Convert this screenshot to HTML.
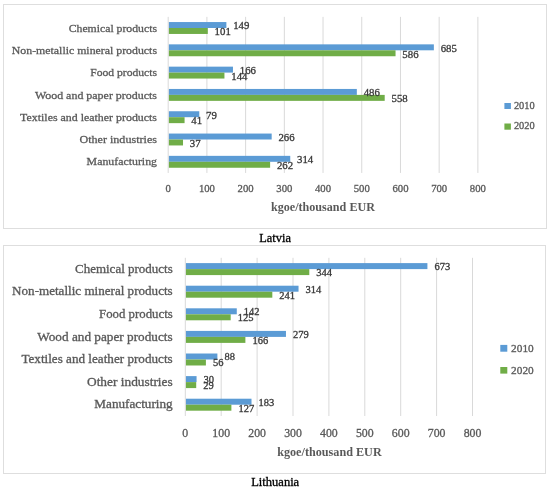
<!DOCTYPE html>
<html><head><meta charset="utf-8"><style>
html,body{margin:0;padding:0;background:#fff;}
svg{display:block;font-family:"Liberation Serif", serif;will-change:transform;}
text{stroke-width:0.3px;}
</style></head><body>
<svg width="550" height="491" viewBox="0 0 550 491">
<rect x="3.5" y="4.5" width="543" height="224" fill="#fff" stroke="#DEDEDE" stroke-width="1"/>
<line x1="206.91" y1="16.85" x2="206.91" y2="172.95" stroke="#D9D9D9" stroke-width="1"/>
<line x1="245.62" y1="16.85" x2="245.62" y2="172.95" stroke="#D9D9D9" stroke-width="1"/>
<line x1="284.33" y1="16.85" x2="284.33" y2="172.95" stroke="#D9D9D9" stroke-width="1"/>
<line x1="323.04" y1="16.85" x2="323.04" y2="172.95" stroke="#D9D9D9" stroke-width="1"/>
<line x1="361.75" y1="16.85" x2="361.75" y2="172.95" stroke="#D9D9D9" stroke-width="1"/>
<line x1="400.46" y1="16.85" x2="400.46" y2="172.95" stroke="#D9D9D9" stroke-width="1"/>
<line x1="439.17" y1="16.85" x2="439.17" y2="172.95" stroke="#D9D9D9" stroke-width="1"/>
<line x1="477.88" y1="16.85" x2="477.88" y2="172.95" stroke="#D9D9D9" stroke-width="1"/>
<rect x="168.7" y="22.05" width="57.68" height="5.95" fill="#5B9BD5"/>
<rect x="168.7" y="28" width="39.1" height="5.95" fill="#70AD47"/>
<rect x="168.7" y="44.35" width="265.16" height="5.95" fill="#5B9BD5"/>
<rect x="168.7" y="50.3" width="226.84" height="5.95" fill="#70AD47"/>
<rect x="168.7" y="66.65" width="64.26" height="5.95" fill="#5B9BD5"/>
<rect x="168.7" y="72.6" width="55.74" height="5.95" fill="#70AD47"/>
<rect x="168.7" y="88.95" width="188.13" height="5.95" fill="#5B9BD5"/>
<rect x="168.7" y="94.9" width="216" height="5.95" fill="#70AD47"/>
<rect x="168.7" y="111.25" width="30.58" height="5.95" fill="#5B9BD5"/>
<rect x="168.7" y="117.2" width="15.87" height="5.95" fill="#70AD47"/>
<rect x="168.7" y="133.55" width="102.97" height="5.95" fill="#5B9BD5"/>
<rect x="168.7" y="139.5" width="14.32" height="5.95" fill="#70AD47"/>
<rect x="168.7" y="155.85" width="121.55" height="5.95" fill="#5B9BD5"/>
<rect x="168.7" y="161.8" width="101.42" height="5.95" fill="#70AD47"/>
<line x1="168.2" y1="16.85" x2="168.2" y2="172.95" stroke="#D9D9D9" stroke-width="1"/>
<text x="68.7" y="31.6" font-size="11.4" fill="#595959" stroke="#595959" textLength="88.3" lengthAdjust="spacingAndGlyphs">Chemical products</text>
<text x="11.8" y="53.9" font-size="11.4" fill="#595959" stroke="#595959" textLength="145.2" lengthAdjust="spacingAndGlyphs">Non-metallic mineral products</text>
<text x="90.3" y="76.2" font-size="11.4" fill="#595959" stroke="#595959" textLength="66.7" lengthAdjust="spacingAndGlyphs">Food products</text>
<text x="34.9" y="98.5" font-size="11.4" fill="#595959" stroke="#595959" textLength="122.1" lengthAdjust="spacingAndGlyphs">Wood and paper products</text>
<text x="20.1" y="120.8" font-size="11.4" fill="#595959" stroke="#595959" textLength="136.9" lengthAdjust="spacingAndGlyphs">Textiles and leather products</text>
<text x="79.4" y="143.1" font-size="11.4" fill="#595959" stroke="#595959" textLength="77.6" lengthAdjust="spacingAndGlyphs">Other industries</text>
<text x="86.6" y="165.4" font-size="11.4" fill="#595959" stroke="#595959" textLength="70.4" lengthAdjust="spacingAndGlyphs">Manufacturing</text>
<text x="168.2" y="191.7" font-size="10.7" fill="#595959" stroke="#595959" text-anchor="middle">0</text>
<text x="206.91" y="191.7" font-size="10.7" fill="#595959" stroke="#595959" text-anchor="middle">100</text>
<text x="245.62" y="191.7" font-size="10.7" fill="#595959" stroke="#595959" text-anchor="middle">200</text>
<text x="284.33" y="191.7" font-size="10.7" fill="#595959" stroke="#595959" text-anchor="middle">300</text>
<text x="323.04" y="191.7" font-size="10.7" fill="#595959" stroke="#595959" text-anchor="middle">400</text>
<text x="361.75" y="191.7" font-size="10.7" fill="#595959" stroke="#595959" text-anchor="middle">500</text>
<text x="400.46" y="191.7" font-size="10.7" fill="#595959" stroke="#595959" text-anchor="middle">600</text>
<text x="439.17" y="191.7" font-size="10.7" fill="#595959" stroke="#595959" text-anchor="middle">700</text>
<text x="477.88" y="191.7" font-size="10.7" fill="#595959" stroke="#595959" text-anchor="middle">800</text>
<text x="270.9" y="210.7" font-size="11.5" fill="#595959" font-weight="bold" stroke="none" textLength="104.1" lengthAdjust="spacingAndGlyphs">kgoe/thousand EUR</text>
<rect x="504.4" y="103" width="6.5" height="6" fill="#5B9BD5"/>
<rect x="504.4" y="123.5" width="6.5" height="6.2" fill="#70AD47"/>
<text x="513.9" y="108.8" font-size="10.4" fill="#595959" stroke="#595959">2010</text>
<text x="513.9" y="129.4" font-size="10.4" fill="#595959" stroke="#595959">2020</text>
<text x="233.18" y="29.32" font-size="10.8" fill="#383838" stroke="#383838">149</text>
<text x="214.6" y="35.28" font-size="10.8" fill="#383838" stroke="#383838">101</text>
<text x="440.66" y="51.62" font-size="10.8" fill="#383838" stroke="#383838">685</text>
<text x="402.34" y="57.58" font-size="10.8" fill="#383838" stroke="#383838">586</text>
<text x="239.76" y="73.92" font-size="10.8" fill="#383838" stroke="#383838">166</text>
<text x="231.24" y="79.88" font-size="10.8" fill="#383838" stroke="#383838">144</text>
<text x="363.63" y="96.22" font-size="10.8" fill="#383838" stroke="#383838">486</text>
<text x="391.5" y="102.18" font-size="10.8" fill="#383838" stroke="#383838">558</text>
<text x="206.08" y="118.52" font-size="10.8" fill="#383838" stroke="#383838">79</text>
<text x="191.37" y="124.48" font-size="10.8" fill="#383838" stroke="#383838">41</text>
<text x="278.47" y="140.82" font-size="10.8" fill="#383838" stroke="#383838">266</text>
<text x="189.82" y="146.78" font-size="10.8" fill="#383838" stroke="#383838">37</text>
<text x="297.05" y="163.12" font-size="10.8" fill="#383838" stroke="#383838">314</text>
<text x="276.92" y="169.08" font-size="10.8" fill="#383838" stroke="#383838">262</text>
<text x="259.3" y="241.7" font-size="12.0" fill="#000" stroke="#000" textLength="31.6" lengthAdjust="spacingAndGlyphs">Latvia</text>
<rect x="3.5" y="245.5" width="542" height="228" fill="#fff" stroke="#DEDEDE" stroke-width="1"/>
<line x1="221.2" y1="257.8" x2="221.2" y2="416" stroke="#D9D9D9" stroke-width="1"/>
<line x1="257.1" y1="257.8" x2="257.1" y2="416" stroke="#D9D9D9" stroke-width="1"/>
<line x1="293" y1="257.8" x2="293" y2="416" stroke="#D9D9D9" stroke-width="1"/>
<line x1="328.9" y1="257.8" x2="328.9" y2="416" stroke="#D9D9D9" stroke-width="1"/>
<line x1="364.8" y1="257.8" x2="364.8" y2="416" stroke="#D9D9D9" stroke-width="1"/>
<line x1="400.7" y1="257.8" x2="400.7" y2="416" stroke="#D9D9D9" stroke-width="1"/>
<line x1="436.6" y1="257.8" x2="436.6" y2="416" stroke="#D9D9D9" stroke-width="1"/>
<line x1="472.5" y1="257.8" x2="472.5" y2="416" stroke="#D9D9D9" stroke-width="1"/>
<rect x="185.8" y="263.11" width="241.61" height="5.99" fill="#5B9BD5"/>
<rect x="185.8" y="269.1" width="123.5" height="5.99" fill="#70AD47"/>
<rect x="185.8" y="285.71" width="112.73" height="5.99" fill="#5B9BD5"/>
<rect x="185.8" y="291.7" width="86.52" height="5.99" fill="#70AD47"/>
<rect x="185.8" y="308.31" width="50.98" height="5.99" fill="#5B9BD5"/>
<rect x="185.8" y="314.3" width="44.88" height="5.99" fill="#70AD47"/>
<rect x="185.8" y="330.91" width="100.16" height="5.99" fill="#5B9BD5"/>
<rect x="185.8" y="336.9" width="59.59" height="5.99" fill="#70AD47"/>
<rect x="185.8" y="353.51" width="31.59" height="5.99" fill="#5B9BD5"/>
<rect x="185.8" y="359.5" width="20.1" height="5.99" fill="#70AD47"/>
<rect x="185.8" y="376.11" width="10.77" height="5.99" fill="#5B9BD5"/>
<rect x="185.8" y="382.1" width="10.41" height="5.99" fill="#70AD47"/>
<rect x="185.8" y="398.71" width="65.7" height="5.99" fill="#5B9BD5"/>
<rect x="185.8" y="404.7" width="45.59" height="5.99" fill="#70AD47"/>
<line x1="185.3" y1="257.8" x2="185.3" y2="416" stroke="#D9D9D9" stroke-width="1"/>
<text x="75" y="272.8" font-size="12.0" fill="#595959" stroke="#595959" textLength="97.7" lengthAdjust="spacingAndGlyphs">Chemical products</text>
<text x="12.1" y="295.4" font-size="12.0" fill="#595959" stroke="#595959" textLength="160.6" lengthAdjust="spacingAndGlyphs">Non-metallic mineral products</text>
<text x="99.1" y="318" font-size="12.0" fill="#595959" stroke="#595959" textLength="73.6" lengthAdjust="spacingAndGlyphs">Food products</text>
<text x="37.3" y="340.6" font-size="12.0" fill="#595959" stroke="#595959" textLength="135.4" lengthAdjust="spacingAndGlyphs">Wood and paper products</text>
<text x="21.4" y="363.2" font-size="12.0" fill="#595959" stroke="#595959" textLength="151.3" lengthAdjust="spacingAndGlyphs">Textiles and leather products</text>
<text x="87" y="385.8" font-size="12.0" fill="#595959" stroke="#595959" textLength="85.7" lengthAdjust="spacingAndGlyphs">Other industries</text>
<text x="94.3" y="408.4" font-size="12.0" fill="#595959" stroke="#595959" textLength="78.4" lengthAdjust="spacingAndGlyphs">Manufacturing</text>
<text x="185.3" y="436.8" font-size="11.8" fill="#595959" stroke="#595959" text-anchor="middle">0</text>
<text x="221.2" y="436.8" font-size="11.8" fill="#595959" stroke="#595959" text-anchor="middle">100</text>
<text x="257.1" y="436.8" font-size="11.8" fill="#595959" stroke="#595959" text-anchor="middle">200</text>
<text x="293" y="436.8" font-size="11.8" fill="#595959" stroke="#595959" text-anchor="middle">300</text>
<text x="328.9" y="436.8" font-size="11.8" fill="#595959" stroke="#595959" text-anchor="middle">400</text>
<text x="364.8" y="436.8" font-size="11.8" fill="#595959" stroke="#595959" text-anchor="middle">500</text>
<text x="400.7" y="436.8" font-size="11.8" fill="#595959" stroke="#595959" text-anchor="middle">600</text>
<text x="436.6" y="436.8" font-size="11.8" fill="#595959" stroke="#595959" text-anchor="middle">700</text>
<text x="472.5" y="436.8" font-size="11.8" fill="#595959" stroke="#595959" text-anchor="middle">800</text>
<text x="277.2" y="455.7" font-size="12.2" fill="#595959" font-weight="bold" stroke="none" textLength="104.5" lengthAdjust="spacingAndGlyphs">kgoe/thousand EUR</text>
<rect x="500.3" y="344.9" width="7" height="6.8" fill="#5B9BD5"/>
<rect x="500.3" y="367" width="7" height="6.6" fill="#70AD47"/>
<text x="511.1" y="351.7" font-size="11.3" fill="#595959" stroke="#595959">2010</text>
<text x="511.1" y="373.5" font-size="11.3" fill="#595959" stroke="#595959">2020</text>
<text x="434.41" y="270.01" font-size="10.5" fill="#383838" stroke="#383838">673</text>
<text x="316.3" y="275.99" font-size="10.5" fill="#383838" stroke="#383838">344</text>
<text x="305.53" y="292.61" font-size="10.5" fill="#383838" stroke="#383838">314</text>
<text x="279.32" y="298.59" font-size="10.5" fill="#383838" stroke="#383838">241</text>
<text x="243.78" y="315.21" font-size="10.5" fill="#383838" stroke="#383838">142</text>
<text x="237.68" y="321.19" font-size="10.5" fill="#383838" stroke="#383838">125</text>
<text x="292.96" y="337.81" font-size="10.5" fill="#383838" stroke="#383838">279</text>
<text x="252.39" y="343.79" font-size="10.5" fill="#383838" stroke="#383838">166</text>
<text x="224.39" y="360.41" font-size="10.5" fill="#383838" stroke="#383838">88</text>
<text x="212.9" y="366.39" font-size="10.5" fill="#383838" stroke="#383838">56</text>
<text x="203.57" y="383.01" font-size="10.5" fill="#383838" stroke="#383838">30</text>
<text x="203.21" y="388.99" font-size="10.5" fill="#383838" stroke="#383838">29</text>
<text x="258.5" y="405.61" font-size="10.5" fill="#383838" stroke="#383838">183</text>
<text x="238.39" y="411.59" font-size="10.5" fill="#383838" stroke="#383838">127</text>
<text x="251.2" y="485.9" font-size="11.6" fill="#000" stroke="#000" textLength="48" lengthAdjust="spacingAndGlyphs">Lithuania</text>
</svg>
</body></html>
